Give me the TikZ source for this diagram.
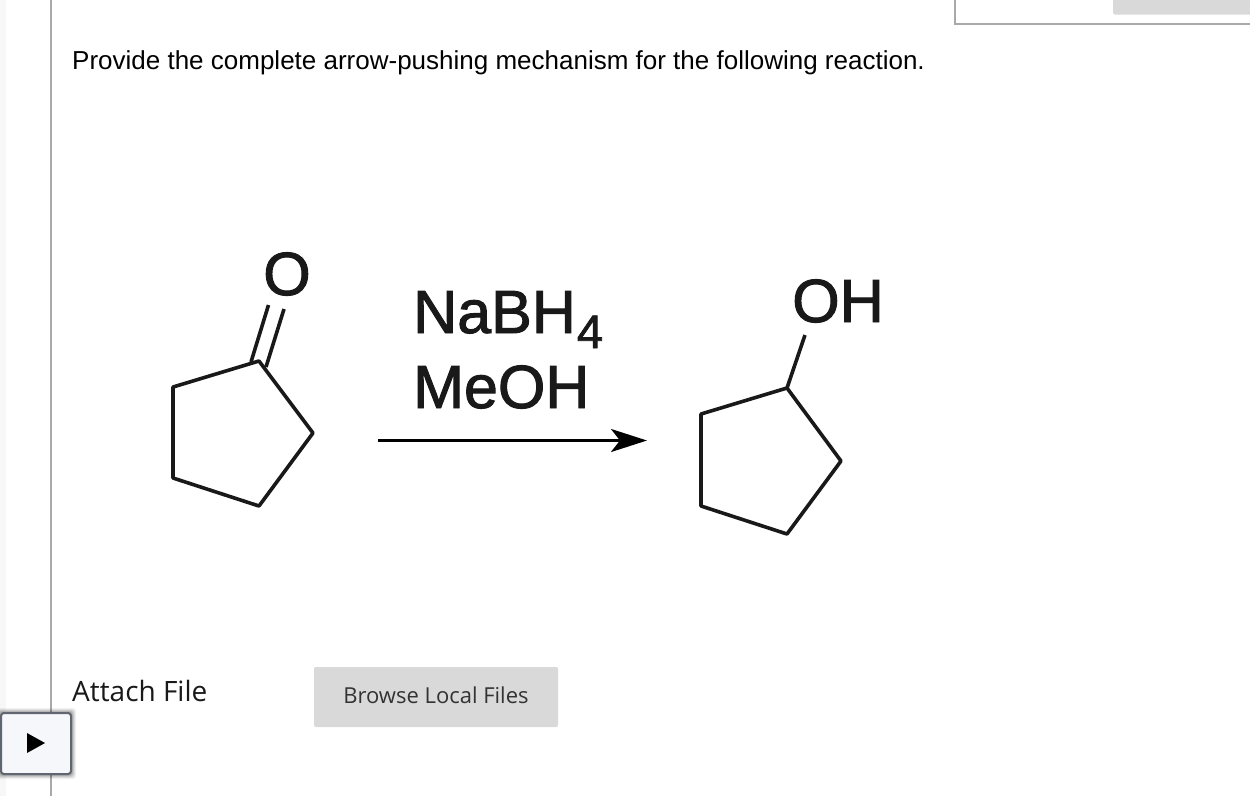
\documentclass[tikz,border=0pt]{standalone}
\usepackage{fontspec}
\setmainfont{Liberation Sans}
\newfontfamily\uifont{Open Sans}
\newfontfamily\chemfont[FakeBold=1.6]{Liberation Sans}
\usetikzlibrary{arrows.meta}
\definecolor{railgrey}{HTML}{A9A9A9}
\definecolor{btngrey}{HTML}{D9D9D9}
\definecolor{txtgrey}{HTML}{333333}
\definecolor{tabfill}{HTML}{F5F7FB}
\definecolor{tabline}{HTML}{5F6670}
\definecolor{stripgrey}{HTML}{F7F7F7}
\tikzset{
  px/.style={x=1pt,y=-1pt},
  bond/.style={draw=black!90,line width=3.6pt,line join=round},
  chem/.style={inner sep=0pt,text=black!90},
  rxn/.style={draw=black,line width=2.8pt,-{Stealth[length=36pt,width=23pt,inset=9pt]}},
  rail/.style={draw=railgrey,line width=2pt},
  lbl/.style={inner sep=0pt,anchor=base west},
  btn/.style={fill=btngrey,rounded corners=2pt}
}
\begin{document}
\begin{tikzpicture}[px]
\useasboundingbox (0,0) rectangle (1250,796);
\fill[white] (0,0) rectangle (1250,796);
\fill[stripgrey] (0,0) rectangle (6,796);
\draw[rail] (51,0) -- (51,796);
% top right panel
\draw[rail] (955,0) -- (955,23.5) -- (1250,23.5);
\path[btn] (1113,-6) rectangle (1256,14.5);
% question
\node[lbl,font=\fontsize{26}{32}\selectfont] (q) at (72,69.5) {Provide the complete arrow-pushing mechanism for the following reaction.};
% reactant ring
\coordinate (a1) at (173,387);
\coordinate (a2) at (259,361);
\coordinate (a3) at (313,433);
\coordinate (a4) at (259,506);
\coordinate (a5) at (173,478);
\draw[bond] (a1) -- (a2) -- (a3) -- (a4) -- (a5) -- cycle;
\node[chem,font=\chemfont\fontsize{61}{64}\selectfont] (O) at (287,274) {O};
\coordinate (d1a) at (251,362);
\coordinate (d1b) at (268.5,305);
\coordinate (d2a) at (266,367);
\coordinate (d2b) at (284,309);
\draw[bond] (d1a) -- (d1b);
\draw[bond] (d2a) -- (d2b);
% reagents
\node[lbl,text=black!90,font=\chemfont\fontsize{61}{64}\selectfont] (nabh) at (413,333) {NaBH\kern1pt\raisebox{-15pt}{\fontsize{47}{49}\selectfont 4}};
\node[lbl,text=black!90,font=\chemfont\fontsize{61}{64}\selectfont] (meoh) at (413,408) {MeOH};
% reaction arrow
\coordinate (r1) at (378,440.5);
\coordinate (r2) at (647,440.5);
\draw[rxn] (r1) -- (r2);
% product ring
\coordinate (b1) at (701,414);
\coordinate (b2) at (787,388);
\coordinate (b3) at (841,461);
\coordinate (b4) at (787,534);
\coordinate (b5) at (701,506);
\draw[bond] (b1) -- (b2) -- (b3) -- (b4) -- (b5) -- cycle;
\node[chem,font=\chemfont\fontsize{61}{64}\selectfont] (OH) at (838,301) {OH};
\coordinate (oh1) at (805,335);
\draw[bond] (b2) -- (oh1);
% attach row
\node[lbl,text=black!90,font=\uifont\fontsize{28}{32}\selectfont] (att) at (72,701) {Attach File};
\path[btn] (314,667) rectangle (558,727);
\node[inner sep=0pt,text=txtgrey,font=\uifont\fontsize{22}{26}\selectfont] (browse) at (436,695) {Browse Local Files};
% collapsed tab
\foreach \i/\o in {5/0.05,4/0.07,3/0.09,2/0.11,1/0.13}
  \fill[black,opacity=\o,rounded corners=3pt] (1-\i,713-\i) rectangle (71+\i,774+\i);
\draw[tabline,fill=tabfill,line width=2pt,rounded corners=3pt] (1,713) rectangle (71,774);
\fill[black] (27,733) -- (45,743) -- (27,753) -- cycle;
\end{tikzpicture}
\end{document}
